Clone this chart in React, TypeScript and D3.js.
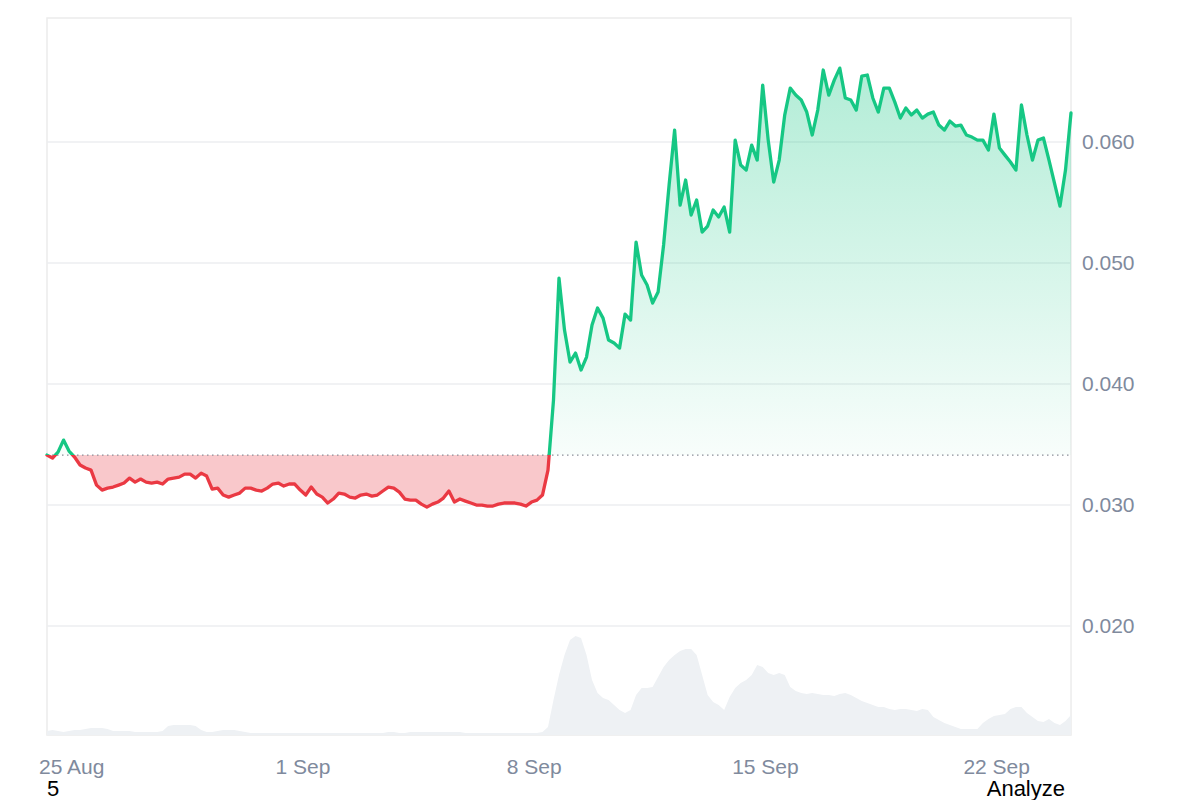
import React from 'react';
import * as d3 from 'd3';

// price samples every 4 hours, starting 24 Aug 06:00 UTC
const START = Date.UTC(2024, 7, 24, 6);
const STEP_HOURS = 4;

const prices = [
  0.03413, 0.03388, 0.03438, 0.03537, 0.03446, 0.03397, 0.03331, 0.03306, 0.03289, 0.03165,
  0.03124, 0.03140, 0.03149, 0.03165, 0.03182, 0.03223, 0.03190, 0.03215, 0.03190, 0.03182,
  0.03190, 0.03174, 0.03215, 0.03223, 0.03231, 0.03256, 0.03256, 0.03223, 0.03264, 0.03240,
  0.03132, 0.03140, 0.03083, 0.03066, 0.03083, 0.03099, 0.03140, 0.03140, 0.03124, 0.03116,
  0.03140, 0.03174, 0.03182, 0.03157, 0.03174, 0.03174, 0.03124, 0.03083, 0.03149, 0.03091,
  0.03066, 0.03017, 0.03050, 0.03099, 0.03091, 0.03066, 0.03058, 0.03083, 0.03091, 0.03074,
  0.03083, 0.03116, 0.03149, 0.03140, 0.03107, 0.03050, 0.03041, 0.03041, 0.03008, 0.02983,
  0.03008, 0.03025, 0.03058, 0.03116, 0.03025, 0.03050, 0.03033, 0.03017, 0.03000, 0.03000,
  0.02992, 0.02992, 0.03008, 0.03017, 0.03017, 0.03017, 0.03008, 0.02992, 0.03025, 0.03041,
  0.03083, 0.03289, 0.03868, 0.04876, 0.04446, 0.04182, 0.04256, 0.04116, 0.04223, 0.04488,
  0.04628, 0.04545, 0.04364, 0.04339, 0.04297, 0.04578, 0.04529, 0.05173, 0.04901, 0.04818,
  0.04669, 0.04760, 0.05149, 0.05645, 0.06099, 0.05479, 0.05686, 0.05397, 0.05521, 0.05256,
  0.05306, 0.05438, 0.05380, 0.05463, 0.05256, 0.06016, 0.05810, 0.05768, 0.05975, 0.05851,
  0.06471, 0.06016, 0.05669, 0.05851, 0.06223, 0.06446, 0.06388, 0.06347, 0.06248, 0.06058,
  0.06264, 0.06595, 0.06388, 0.06512, 0.06611, 0.06364, 0.06347, 0.06264, 0.06545, 0.06554,
  0.06364, 0.06248, 0.06446, 0.06446, 0.06330, 0.06198, 0.06281, 0.06223, 0.06264, 0.06198,
  0.06231, 0.06248, 0.06140, 0.06099, 0.06173, 0.06132, 0.06140, 0.06058, 0.06041, 0.06016,
  0.06016, 0.05934, 0.06231, 0.05950, 0.05892, 0.05835, 0.05768, 0.06306, 0.06058, 0.05851,
  0.06016, 0.06033, 0.05851, 0.05661, 0.05471, 0.05768, 0.06240,
];

// volume in K, same timestamps
const volumes = [
  40, 50, 40, 30, 40, 50, 50, 60, 70, 70,
  70, 60, 40, 40, 40, 40, 30, 30, 30, 30,
  30, 40, 90, 100, 100, 100, 100, 90, 50, 30,
  30, 40, 50, 50, 50, 40, 30, 20, 20, 20,
  20, 20, 20, 20, 20, 20, 20, 20, 20, 20,
  20, 20, 20, 20, 20, 20, 20, 20, 20, 20,
  20, 20, 30, 30, 20, 20, 30, 30, 30, 30,
  30, 30, 30, 30, 30, 30, 20, 20, 20, 20,
  20, 20, 20, 20, 20, 20, 20, 20, 20, 20,
  30, 80, 350, 600, 800, 950, 990, 970, 800, 550,
  420, 370, 350, 300, 250, 220, 250, 400, 470, 470,
  480, 580, 680, 750, 800, 840, 860, 860, 800, 600,
  400, 330, 300, 250, 380, 470, 520, 550, 600, 700,
  680, 620, 600, 620, 600, 480, 440, 420, 410, 420,
  410, 400, 400, 390, 410, 420, 400, 370, 340, 320,
  300, 280, 280, 260, 250, 260, 260, 250, 240, 260,
  250, 180, 150, 120, 100, 80, 60, 60, 60, 60,
  120, 160, 190, 200, 210, 260, 280, 280, 220, 180,
  140, 130, 160, 120, 100, 140, 200,
];

const yTicks = [0.02, 0.03, 0.04, 0.05, 0.06];
const xTickDates = ['2024-08-25', '2024-09-01', '2024-09-08', '2024-09-15', '2024-09-22'];

const GREEN = '#16c784';
const RED = '#ea3943';
const FONT = 'Arial, "Liberation Sans", Helvetica, sans-serif';

const App = () => {
  const left = 47, right = 1071, top = 18, bottom = 735;

  const data = prices.map((p, i) => ({
    t: new Date(START + i * STEP_HOURS * 3600 * 1000),
    p,
    v: volumes[i],
  }));

  const x = d3.scaleUtc()
    .domain([data[0].t, data[data.length - 1].t])
    .range([left, right]);

  const y = d3.scaleLinear()
    .domain([0.011, 0.07025])
    .range([bottom, top]);

  const yVol = d3.scaleLinear()
    .domain([0, 7170])
    .range([bottom, top]);

  const base = prices[0];
  const yBase = y(base);

  const line = d3.line<any>().x(d => x(d.t)).y(d => y(d.p));
  const area = d3.area<any>().x(d => x(d.t)).y0(yBase).y1(d => y(d.p));
  const volArea = d3.area<any>().x(d => x(d.t)).y0(bottom).y1(d => yVol(d.v));

  const fmt = d3.format('.3f');
  const dateFmt = d3.utcFormat('%-d %b');
  const xTicks = xTickDates.map(s => new Date(s + 'T00:00:00Z'));
  const maxP = d3.max(prices) as number;

  return (
    <svg width={1200} height={800} style={{ position: 'absolute', left: 0, top: 0 }} fontFamily={FONT}>
      <defs>
        <clipPath id="above">
          <rect x={left - 5} y={top} width={right - left + 10} height={yBase - top} />
        </clipPath>
        <clipPath id="below">
          <rect x={left - 5} y={yBase} width={right - left + 10} height={bottom - yBase} />
        </clipPath>
        <linearGradient id="greenFill" gradientUnits="userSpaceOnUse" x1={0} x2={0} y1={y(maxP)} y2={yBase}>
          <stop offset="0%" stopColor={GREEN} stopOpacity={0.33} />
          <stop offset="100%" stopColor={GREEN} stopOpacity={0.03} />
        </linearGradient>
      </defs>

      <rect x={left} y={top} width={right - left} height={bottom - top} fill="white" stroke="#ececec" strokeWidth={1.5} />

      {yTicks.map(t => (
        <line key={t} x1={left} x2={right} y1={y(t)} y2={y(t)} stroke="#eceef1" strokeWidth={1.5} />
      ))}

      <path d={volArea(data) || ''} fill="#eef1f4" />

      <path d={area(data) || ''} fill="url(#greenFill)" clipPath="url(#above)" />
      <path d={area(data) || ''} fill={RED} fillOpacity={0.28} clipPath="url(#below)" />

      <line x1={left} x2={right} y1={yBase} y2={yBase} stroke="#8a8f99" strokeWidth={1.3} strokeDasharray="1.5 3.5" />

      <path d={line(data) || ''} fill="none" stroke={GREEN} strokeWidth={3.3} strokeLinejoin="round" strokeLinecap="round" clipPath="url(#above)" />
      <path d={line(data) || ''} fill="none" stroke={RED} strokeWidth={3.3} strokeLinejoin="round" strokeLinecap="round" clipPath="url(#below)" />

      {yTicks.map(t => (
        <text key={t} x={1082} y={y(t)} dy="0.35em" fontSize={21} fill="#808a9d">{fmt(t)}</text>
      ))}

      {xTicks.map(t => (
        <text key={+t} x={x(t)} y={774} textAnchor="middle" fontSize={21} fill="#808a9d">{dateFmt(t)}</text>
      ))}

      <text x={47} y={796} fontSize={22} fill="#000">5</text>
      <text x={1065} y={796} textAnchor="end" fontSize={22} fill="#000">Analyze</text>
    </svg>
  );
};

export default App;
